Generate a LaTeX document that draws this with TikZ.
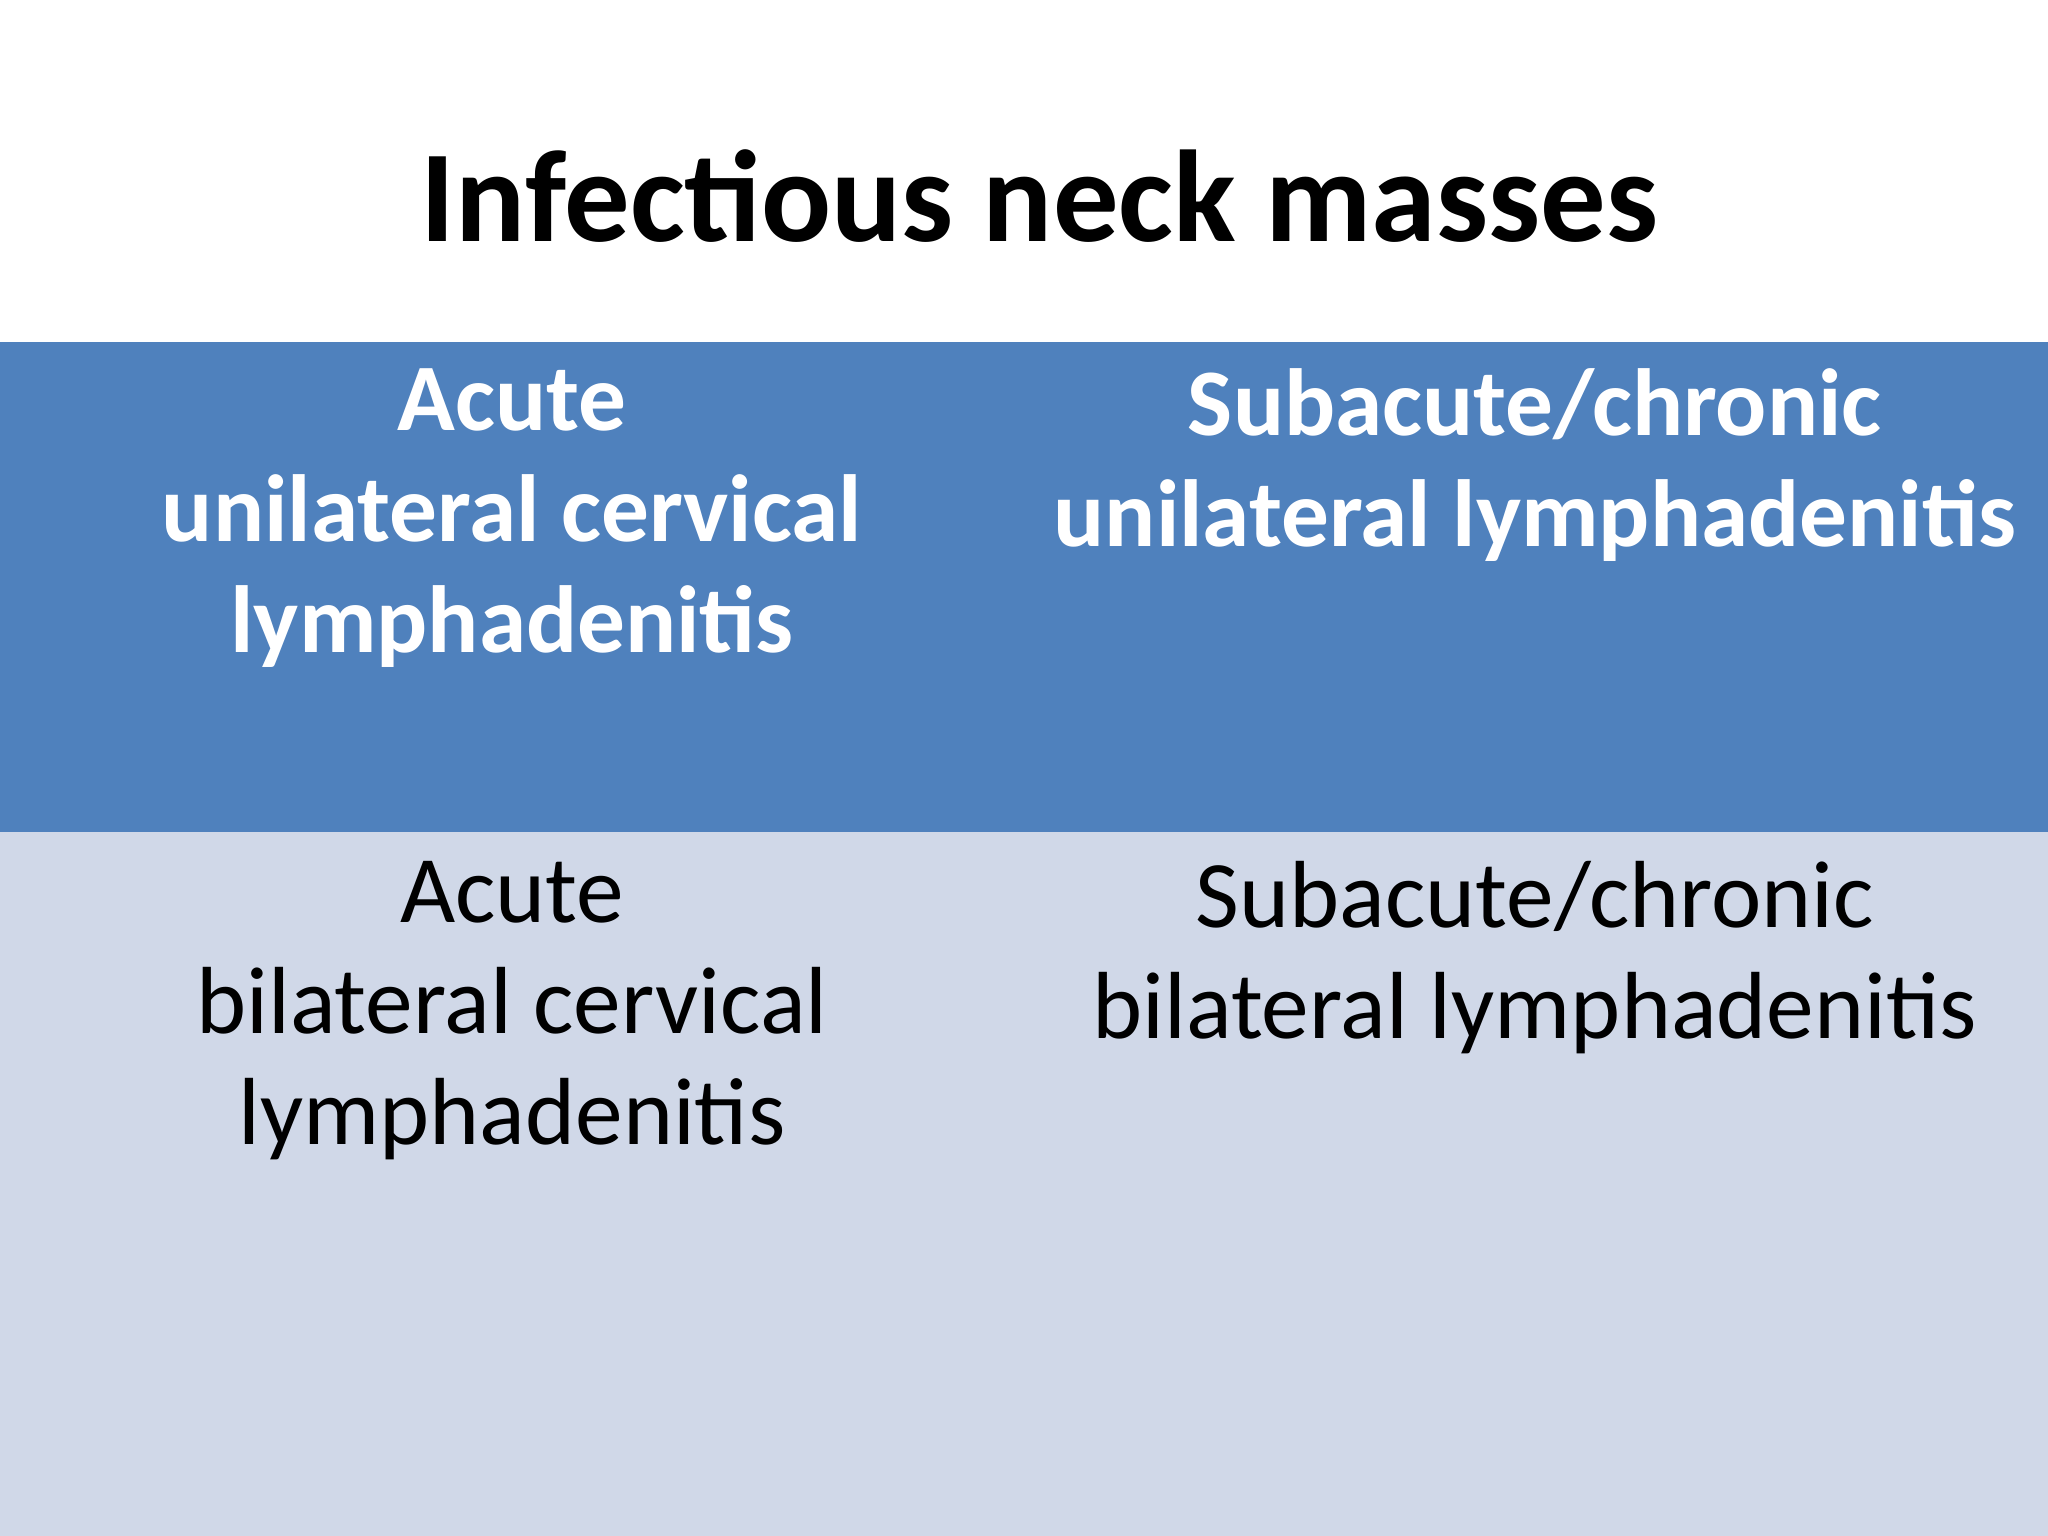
\documentclass[tikz,border=0pt]{standalone}
\usepackage{fontspec}
\setmainfont{Carlito}
\definecolor{hdr}{HTML}{4F81BD}
\definecolor{bdy}{HTML}{D0D8E8}
\begin{document}
\begin{tikzpicture}[x=0.5pt,y=-0.5pt,
  cell/.style={align=center,inner sep=0,font=\fontsize{36.5pt}{42.5pt}\selectfont}]
\useasboundingbox (0,0) rectangle (1568,1176);
\fill[white] (0,0) rectangle (1568,1176);
\fill[hdr] (0,262) rectangle (1568,637);
\fill[bdy] (0,637) rectangle (1568,1176);
\node[font=\fontsize{50pt}{60pt}\selectfont\bfseries,anchor=base,inner sep=0] (title) at (796,185) {Infectious neck masses};
\node[cell,text=white,font=\fontsize{36.5pt}{42.5pt}\selectfont\bfseries,anchor=north] (h1) at (392,282) {Acute\\unilateral cervical\\lymphadenitis};
\node[cell,text=white,font=\fontsize{36.5pt}{42.5pt}\selectfont\bfseries,anchor=north] (h2) at (1175,282) {Subacute/chronic\\unilateral lymphadenitis};
\node[cell,anchor=north] (b1) at (392,659) {Acute\\bilateral cervical\\lymphadenitis};
\node[cell,anchor=north] (b2) at (1175,659) {Subacute/chronic\\bilateral lymphadenitis};
\end{tikzpicture}
\end{document}
